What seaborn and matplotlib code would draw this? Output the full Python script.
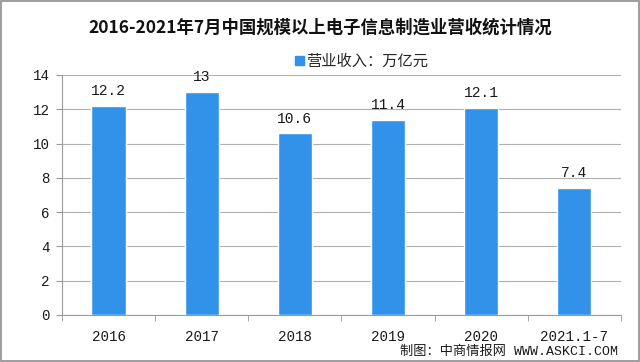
import numpy as np
import pandas as pd
import matplotlib
matplotlib.use('Agg')
import matplotlib.pyplot as plt
import seaborn as sns
from matplotlib.patches import Rectangle

# chart data
categories = ['2016', '2017', '2018', '2019', '2020', '2021.1-7']
revenue = [12.2, 13, 10.6, 11.4, 12.1, 7.4]
value_labels = ['12.2', '13', '10.6', '11.4', '12.1', '7.4']
y_ticks = [0, 2, 4, 6, 8, 10, 12, 14]

df = pd.DataFrame({'year': categories, 'revenue': revenue})

sns.set_style('white')
plt.rcParams['font.family'] = ['Noto Sans CJK SC', 'DejaVu Sans']
mono = ['Liberation Mono', 'Noto Sans CJK SC']

bar_color = '#3292ea'

fig = plt.figure(figsize=(6.4, 3.62), dpi=100)
ax = fig.add_axes([0.097, 0.130, 0.873, 0.663])

sns.barplot(data=df, x='year', y='revenue', color=bar_color, width=0.37,
            saturation=1, ax=ax, zorder=3)

ax.set_ylim(0, 14)
ax.set_yticks(y_ticks)
ax.set_xlim(-0.5, len(categories) - 0.5)
ax.yaxis.grid(True, color='#b0b0b0', linewidth=0.8, zorder=0)
ax.set_axisbelow(True)

for s in ['top', 'right']:
    ax.spines[s].set_visible(False)
for s in ['left', 'bottom']:
    ax.spines[s].set_color('#9a9a9a')
    ax.spines[s].set_linewidth(0.8)

ax.tick_params(axis='y', which='major', left=True, length=4, color='#9a9a9a',
               pad=5, labelcolor='#1a1a1a')
ax.tick_params(axis='x', which='major', bottom=False, pad=7, labelcolor='#1a1a1a')
for lab in ax.get_xticklabels() + ax.get_yticklabels():
    lab.set_family(mono)
    lab.set_fontsize(10.2)
ax.set_xticks(np.arange(-0.5, len(categories)), minor=True)
ax.tick_params(axis='x', which='minor', bottom=True, length=4, color='#9a9a9a')
ax.set_xlabel('')
ax.set_ylabel('')

for i, (v, lab) in enumerate(zip(revenue, value_labels)):
    ax.text(i, v + 0.45, lab, ha='center', va='bottom', fontsize=10.5,
            family=mono, color='#1a1a1a', zorder=4)

# title, legend and source
fig.text(0.5, 0.923, '2016-2021年7月中国规模以上电子信息制造业营收统计情况',
         ha='center', va='center', fontsize=12.5, fontweight='bold', color='#111111')
handle = Rectangle((0, 0), 1, 1, color=bar_color)
fig.legend([handle], ['营业收入：万亿元'], loc='center', bbox_to_anchor=(0.565, 0.83),
           frameon=False, fontsize=11, handlelength=0.55, handleheight=0.55,
           handletextpad=0.15, borderpad=0)
fig.text(0.966, 0.028, '制图：中商情报网 WWW.ASKCI.COM', ha='right', va='center',
         fontsize=9.5, family=mono, color='#1a1a1a')

# outer frame
fig.patches.append(Rectangle((0.002, 0.003), 0.996, 0.994, transform=fig.transFigure,
                             fill=False, edgecolor='#8c8c8c', linewidth=1.2))

fig.savefig('out.png', dpi=100)
